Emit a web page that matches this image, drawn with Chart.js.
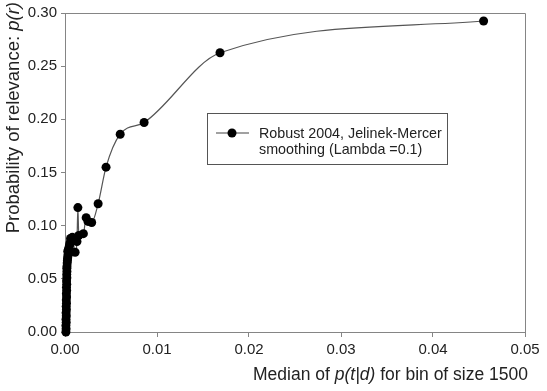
<!DOCTYPE html>
<html>
<head>
<meta charset="utf-8">
<script src="https://cdn.jsdelivr.net/npm/chart.js@4.4.1/dist/chart.umd.min.js"></script>
<style>
  html, body { margin: 0; padding: 0; background: #fff; }
  #wrap { width: 547px; height: 391px; }
</style>
</head>
<body>
<div id="wrap"><canvas id="myChart"></canvas></div>
<script>
// median p(t|d) per bin (x) and probability of relevance (y)
var medianPtd = [
  0.00010, 0.00012, 0.00010, 0.00013, 0.00011, 0.00014, 0.00012, 0.00015,
  0.00013, 0.00016, 0.00014, 0.00017, 0.00015, 0.00018, 0.00016, 0.00019,
  0.00017, 0.00020, 0.00019, 0.00021, 0.00020, 0.00022, 0.00024, 0.00026,
  0.00028, 0.00031, 0.00034, 0.00030, 0.00038, 0.00045, 0.00050, 0.00055,
  0.00060, 0.00070, 0.00080,
  0.0011, 0.0013, 0.0014, 0.0015, 0.0020, 0.0023, 0.0025, 0.0029,
  0.0036, 0.00446, 0.0060, 0.0086, 0.01685, 0.0455
];
var probRel = [
  0.000, 0.003, 0.006, 0.009, 0.012, 0.015, 0.018, 0.021,
  0.024, 0.027, 0.030, 0.033, 0.036, 0.039, 0.042, 0.045,
  0.048, 0.051, 0.054, 0.057, 0.060, 0.062, 0.065, 0.067,
  0.069, 0.071, 0.073, 0.076, 0.078, 0.080, 0.082, 0.084,
  0.088, 0.086, 0.089,
  0.075, 0.085, 0.117, 0.0907, 0.0925, 0.1075, 0.104, 0.103,
  0.1206, 0.155, 0.186, 0.197, 0.2626, 0.2925
];
var xTicks = [0, 0.01, 0.02, 0.03, 0.04, 0.05];
var yTicks = [0, 0.05, 0.10, 0.15, 0.20, 0.25, 0.30];
var seriesLabel = ["Robust 2004, Jelinek-Mercer", "smoothing (Lambda =0.1)"];

var FONT = "'Liberation Sans', Arial, sans-serif";
var AXIS_GRAY = "#858585";

var points = medianPtd.map(function (x, i) {
  return { x: x, y: probRel[i] };
});

// frame, axis titles (mixed italics) and the boxed legend
var decorPlugin = {
  id: "decor",
  afterDraw: function (chart) {
    var ctx = chart.ctx;
    var a = chart.chartArea;
    ctx.save();
    ctx.strokeStyle = AXIS_GRAY;
    ctx.lineWidth = 1;
    ctx.beginPath();
    ctx.moveTo(a.left, a.top + 0.5);
    ctx.lineTo(a.right + 0.5, a.top + 0.5);
    ctx.lineTo(a.right + 0.5, a.bottom);
    ctx.stroke();

    // x title, right aligned to the plot
    var parts = [
      ["Median of ", false], ["p(t|d)", true], [" for bin of size 1500", false]
    ];
    drawParts(ctx, parts, a.right + 3, 380, "right", 17.5);

    // y title, rotated
    ctx.save();
    ctx.translate(19, 0);
    ctx.rotate(-Math.PI / 2);
    var yparts = [["Probability of relevance: ", false], ["p(r)", true]];
    drawParts(ctx, yparts, -2, 0, "right", 18.5);
    ctx.restore();

    // legend
    var lx = 207, ly = 113, lw = 240, lh = 51;
    ctx.fillStyle = "#fff";
    ctx.fillRect(lx, ly, lw, lh);
    ctx.strokeStyle = "#555";
    ctx.strokeRect(lx + 0.5, ly + 0.5, lw, lh);
    ctx.strokeStyle = "#444";
    ctx.lineWidth = 1.2;
    ctx.beginPath();
    ctx.moveTo(216, 133);
    ctx.lineTo(249, 133);
    ctx.stroke();
    ctx.fillStyle = "#000";
    ctx.beginPath();
    ctx.arc(232, 133, 4.5, 0, Math.PI * 2);
    ctx.fill();
    ctx.font = "14.3px " + FONT;
    ctx.fillStyle = "#222";
    ctx.textAlign = "left";
    ctx.textBaseline = "alphabetic";
    ctx.fillText(seriesLabel[0], 259, 138);
    ctx.fillText(seriesLabel[1], 259, 154);
    ctx.restore();
  }
};

function drawParts(ctx, parts, x, y, align, size) {
  var widths = parts.map(function (p) {
    ctx.font = (p[1] ? "italic " : "") + size + "px " + FONT;
    return ctx.measureText(p[0]).width;
  });
  var total = widths.reduce(function (s, w) { return s + w; }, 0);
  var cx = align === "right" ? x - total : x;
  ctx.fillStyle = "#222";
  ctx.textAlign = "left";
  ctx.textBaseline = "alphabetic";
  parts.forEach(function (p, i) {
    ctx.font = (p[1] ? "italic " : "") + size + "px " + FONT;
    ctx.fillText(p[0], cx, y);
    cx += widths[i];
  });
}

var chartPtd;

function initializeChart(ctx) {
  chartPtd = new Chart(ctx, {
    type: "scatter",
    data: {
      datasets: [
        {
          label: seriesLabel.join(" "),
          data: points,
          showLine: true,
          cubicInterpolationMode: "monotone",
          borderColor: "#555",
          borderWidth: 1.2,
          pointRadius: 4.5,
          pointHoverRadius: 4.5,
          pointBackgroundColor: "#000",
          pointBorderColor: "#000",
          pointBorderWidth: 0,
          clip: false,
        },
      ],
    },
    options: {
      responsive: true,
      maintainAspectRatio: false,
      animation: false,
      layout: { padding: { left: 0, top: 11, right: 22, bottom: 0 } },
      plugins: {
        legend: { display: false },
        tooltip: { enabled: false },
      },
      scales: {
        x: {
          type: "linear",
          min: 0,
          max: 0.05,
          afterBuildTicks: function (s) {
            s.ticks = xTicks.map(function (v) { return { value: v }; });
          },
          afterFit: function (s) { s.height = 59; },
          grid: { drawOnChartArea: false, drawTicks: true, tickLength: 5, color: AXIS_GRAY },
          border: { display: true, color: AXIS_GRAY },
          ticks: {
            color: "#222",
            padding: 4,
            maxRotation: 0,
            font: { family: FONT, size: 15 },
            callback: function (v) { return v.toFixed(2); },
          },
        },
        y: {
          type: "linear",
          min: 0,
          max: 0.3,
          afterBuildTicks: function (s) {
            s.ticks = yTicks.map(function (v) { return { value: v }; });
          },
          afterFit: function (s) { s.width = 65; },
          grid: { drawOnChartArea: false, drawTicks: true, tickLength: 4, color: AXIS_GRAY },
          border: { display: true, color: AXIS_GRAY },
          ticks: {
            color: "#222",
            padding: 4,
            font: { family: FONT, size: 15 },
            callback: function (v) { return v.toFixed(2); },
          },
        },
      },
    },
    plugins: [decorPlugin],
  });
}

window.addEventListener("load", function () {
  var ctx = document.getElementById("myChart").getContext("2d");
  initializeChart(ctx);
});
</script>
</body>
</html>
